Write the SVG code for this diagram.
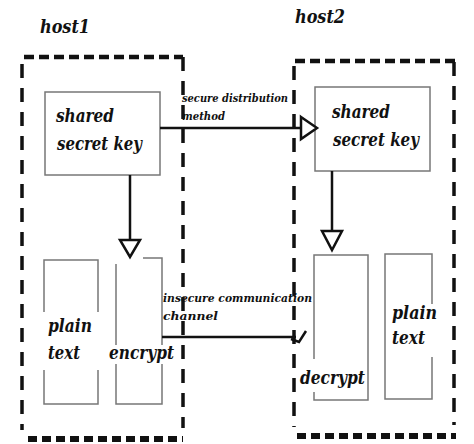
<svg xmlns="http://www.w3.org/2000/svg" width="474" height="444" viewBox="0 0 474 444">
<style>
.t{font-family:"DejaVu Serif","Liberation Serif","Times New Roman",serif;font-weight:bold;font-style:italic;fill:#111}
.big{font-size:18px}
.sm{font-size:11px}
.host{font-size:18px}
.box{fill:none;stroke:#777;stroke-width:1.5}
.side{stroke:#111;stroke-width:3.5;stroke-dasharray:14 10;fill:none}
.top{stroke:#111;stroke-width:4.5;stroke-dasharray:10 5;fill:none}
.bot{stroke:#111;stroke-width:6;stroke-dasharray:9 5;fill:none}
.conn{stroke:#111;stroke-width:2.5;fill:none}
.head{fill:#fff;stroke:#111;stroke-width:2.5}
</style>
<rect width="474" height="444" fill="#fff"/>
<g id="host1">
<line class="top" x1="24" y1="57" x2="183" y2="57"/>
<line class="side" x1="22" y1="64" x2="22" y2="430"/>
<line class="side" x1="183" y1="57" x2="183" y2="428"/>
<line class="bot" x1="28" y1="439" x2="183" y2="439"/>
<text class="t host" x="40" y="33" textLength="50" lengthAdjust="spacingAndGlyphs">host1</text>
</g>
<g id="host2">
<line class="top" x1="295" y1="61" x2="455" y2="61"/>
<line class="side" x1="294" y1="66" x2="294" y2="427"/>
<line class="side" x1="454" y1="62" x2="454" y2="425"/>
<line class="bot" x1="297" y1="436" x2="456" y2="436"/>
<text class="t host" x="295" y="23" textLength="50" lengthAdjust="spacingAndGlyphs">host2</text>
</g>
<g id="key1">
<rect class="box" x="45" y="92" width="115" height="83"/>
<text class="t big" x="56" y="122" textLength="58" lengthAdjust="spacingAndGlyphs">shared</text>
<text class="t big" x="57" y="150" textLength="85" lengthAdjust="spacingAndGlyphs">secret key</text>
</g>
<g id="key2">
<rect class="box" x="315" y="87" width="115" height="84"/>
<text class="t big" x="332" y="118" textLength="58" lengthAdjust="spacingAndGlyphs">shared</text>
<text class="t big" x="333" y="146" textLength="86" lengthAdjust="spacingAndGlyphs">secret key</text>
</g>
<g id="plain1">
<path class="box" d="M44,312 V260 H98 V312 M44,370 V404 H98 V370"/>
<text class="t big" x="48" y="332" textLength="44" lengthAdjust="spacingAndGlyphs">plain</text>
<text class="t big" x="48" y="359" textLength="32" lengthAdjust="spacingAndGlyphs">text</text>
</g>
<g id="encrypt">
<path class="box" d="M116,264 V345 M116,364 V404 H162 V364 M162,345 V258 H143"/>
<text class="t big" x="109" y="359" textLength="65" lengthAdjust="spacingAndGlyphs">encrypt</text>
</g>
<g id="decrypt">
<path class="box" d="M314,359 V255 H368 V400 H314 V392"/>
<text class="t big" x="300" y="384" textLength="65" lengthAdjust="spacingAndGlyphs">decrypt</text>
</g>
<g id="plain2">
<path class="box" d="M432,304 V254 H385 V399 H432 V357"/>
<text class="t big" x="392" y="319" textLength="45" lengthAdjust="spacingAndGlyphs">plain</text>
<text class="t big" x="392" y="344" textLength="33" lengthAdjust="spacingAndGlyphs">text</text>
</g>
<g id="connectors">
<line class="conn" x1="160" y1="128" x2="301" y2="128"/>
<path class="head" d="M301,117 L317,128 L301,139 Z"/>
<text class="t sm" x="182" y="102" textLength="106" lengthAdjust="spacingAndGlyphs">secure distribution</text>
<text class="t sm" x="182" y="120" textLength="43" lengthAdjust="spacingAndGlyphs">method</text>
<line class="conn" x1="130" y1="175" x2="130" y2="240"/>
<path class="head" d="M120,240 L140,240 L130,257 Z"/>
<line class="conn" x1="332" y1="171" x2="332" y2="231"/>
<path class="head" d="M322,231 L342,231 L332,250 Z"/>
<line class="conn" x1="162" y1="337" x2="296" y2="337" stroke-width="3"/>
<path class="conn" d="M291,339 L299,342 L306,331"/>
<text class="t sm" x="163" y="302" textLength="149" lengthAdjust="spacingAndGlyphs">insecure communication</text>
<text class="t sm" x="163" y="320" textLength="55" lengthAdjust="spacingAndGlyphs">channel</text>
</g>
</svg>
